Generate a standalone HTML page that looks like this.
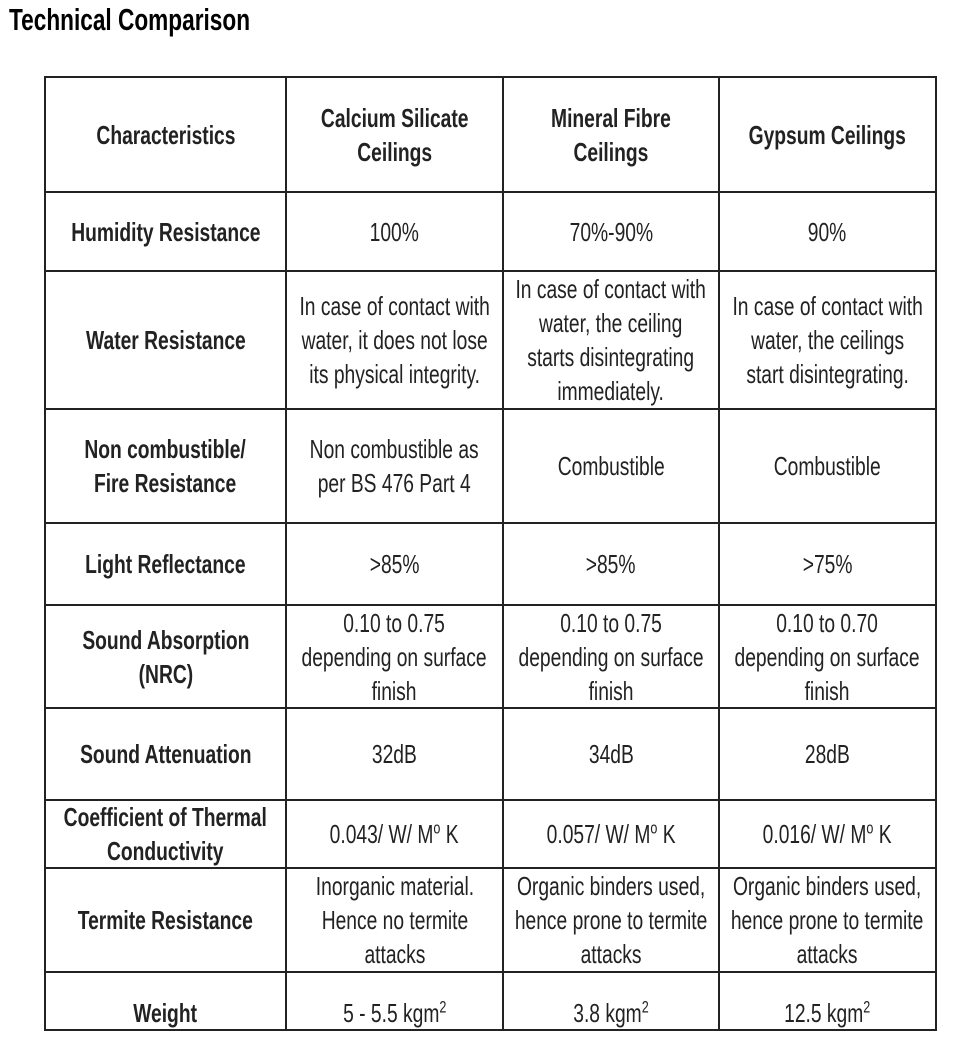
<!DOCTYPE html>
<html><head><meta charset="utf-8"><style>
body{margin:0;width:975px;height:1055px;background:#fff;position:relative;overflow:hidden;font-family:"Liberation Sans",Arial,sans-serif;color:#222}
.t{position:absolute;left:9px;top:2px;font-weight:bold;font-size:31px;color:#000;transform:scaleX(0.73);transform-origin:left top;white-space:nowrap}
.c{position:absolute;display:flex;align-items:center;justify-content:center;text-align:center;font-size:26px;line-height:34px;white-space:nowrap}
.c span{display:inline-block;transform:scaleX(0.74)}
.c sup{font-size:17px;line-height:0}
.b{font-weight:bold}
.h{position:absolute;background:#222}
</style></head><body>
<div class="t">Technical Comparison</div>
<div class="h" style="left:44px;top:76px;width:893px;height:2px"></div>
<div class="h" style="left:44px;top:191px;width:893px;height:2px"></div>
<div class="h" style="left:44px;top:270px;width:893px;height:2px"></div>
<div class="h" style="left:44px;top:408px;width:893px;height:2px"></div>
<div class="h" style="left:44px;top:522px;width:893px;height:2px"></div>
<div class="h" style="left:44px;top:604px;width:893px;height:2px"></div>
<div class="h" style="left:44px;top:707px;width:893px;height:2px"></div>
<div class="h" style="left:44px;top:799px;width:893px;height:2px"></div>
<div class="h" style="left:44px;top:867px;width:893px;height:2px"></div>
<div class="h" style="left:44px;top:971px;width:893px;height:2px"></div>
<div class="h" style="left:44px;top:1029px;width:893px;height:2px"></div>
<div class="h" style="left:44px;top:76px;width:2px;height:955px"></div>
<div class="h" style="left:285px;top:76px;width:2px;height:955px"></div>
<div class="h" style="left:502px;top:76px;width:2px;height:955px"></div>
<div class="h" style="left:718px;top:76px;width:2px;height:955px"></div>
<div class="h" style="left:935px;top:76px;width:2px;height:955px"></div>

<div class="c b" style="left:45px;top:78px;width:241px;height:114px"><span>Characteristics</span></div>
<div class="c b" style="left:286px;top:78px;width:217px;height:114px"><span>Calcium Silicate<br>Ceilings</span></div>
<div class="c b" style="left:503px;top:78px;width:216px;height:114px"><span>Mineral Fibre<br>Ceilings</span></div>
<div class="c b" style="left:719px;top:78px;width:217px;height:114px"><span>Gypsum Ceilings</span></div>

<div class="c b" style="left:45px;top:192px;width:241px;height:79px"><span>Humidity Resistance</span></div>
<div class="c" style="left:286px;top:192px;width:217px;height:79px"><span>100%</span></div>
<div class="c" style="left:503px;top:192px;width:216px;height:79px"><span>70%-90%</span></div>
<div class="c" style="left:719px;top:192px;width:217px;height:79px"><span>90%</span></div>

<div class="c b" style="left:45px;top:271px;width:241px;height:138px"><span>Water Resistance</span></div>
<div class="c" style="left:286px;top:271px;width:217px;height:138px"><span>In case of contact with<br>water, it does not lose<br>its physical integrity.</span></div>
<div class="c" style="left:503px;top:271px;width:216px;height:138px"><span>In case of contact with<br>water, the ceiling<br>starts disintegrating<br>immediately.</span></div>
<div class="c" style="left:719px;top:271px;width:217px;height:138px"><span>In case of contact with<br>water, the ceilings<br>start disintegrating.</span></div>

<div class="c b" style="left:45px;top:409px;width:241px;height:114px"><span>Non combustible/<br>Fire Resistance</span></div>
<div class="c" style="left:286px;top:409px;width:217px;height:114px"><span>Non combustible as<br>per BS 476 Part 4</span></div>
<div class="c" style="left:503px;top:409px;width:216px;height:114px"><span>Combustible</span></div>
<div class="c" style="left:719px;top:409px;width:217px;height:114px"><span>Combustible</span></div>

<div class="c b" style="left:45px;top:523px;width:241px;height:82px"><span>Light Reflectance</span></div>
<div class="c" style="left:286px;top:523px;width:217px;height:82px"><span>&gt;85%</span></div>
<div class="c" style="left:503px;top:523px;width:216px;height:82px"><span>&gt;85%</span></div>
<div class="c" style="left:719px;top:523px;width:217px;height:82px"><span>&gt;75%</span></div>

<div class="c b" style="left:45px;top:605px;width:241px;height:103px"><span>Sound Absorption<br>(NRC)</span></div>
<div class="c" style="left:286px;top:605px;width:217px;height:103px"><span>0.10 to 0.75<br>depending on surface<br>finish</span></div>
<div class="c" style="left:503px;top:605px;width:216px;height:103px"><span>0.10 to 0.75<br>depending on surface<br>finish</span></div>
<div class="c" style="left:719px;top:605px;width:217px;height:103px"><span>0.10 to 0.70<br>depending on surface<br>finish</span></div>

<div class="c b" style="left:45px;top:708px;width:241px;height:92px"><span>Sound Attenuation</span></div>
<div class="c" style="left:286px;top:708px;width:217px;height:92px"><span>32dB</span></div>
<div class="c" style="left:503px;top:708px;width:216px;height:92px"><span>34dB</span></div>
<div class="c" style="left:719px;top:708px;width:217px;height:92px"><span>28dB</span></div>

<div class="c b" style="left:45px;top:800px;width:241px;height:68px"><span>Coefficient of Thermal<br>Conductivity</span></div>
<div class="c" style="left:286px;top:800px;width:217px;height:68px"><span>0.043/ W/ M<sup>o</sup> K</span></div>
<div class="c" style="left:503px;top:800px;width:216px;height:68px"><span>0.057/ W/ M<sup>o</sup> K</span></div>
<div class="c" style="left:719px;top:800px;width:217px;height:68px"><span>0.016/ W/ M<sup>o</sup> K</span></div>

<div class="c b" style="left:45px;top:868px;width:241px;height:104px"><span>Termite Resistance</span></div>
<div class="c" style="left:286px;top:868px;width:217px;height:104px"><span>Inorganic material.<br>Hence no termite<br>attacks</span></div>
<div class="c" style="left:503px;top:868px;width:216px;height:104px"><span>Organic binders used,<br>hence prone to termite<br>attacks</span></div>
<div class="c" style="left:719px;top:868px;width:217px;height:104px"><span>Organic binders used,<br>hence prone to termite<br>attacks</span></div>

<div class="c b" style="left:45px;top:996px;width:241px;height:34px"><span>Weight</span></div>
<div class="c" style="left:286px;top:996px;width:217px;height:34px"><span>5 - 5.5 kgm<sup>2</sup></span></div>
<div class="c" style="left:503px;top:996px;width:216px;height:34px"><span>3.8 kgm<sup>2</sup></span></div>
<div class="c" style="left:719px;top:996px;width:217px;height:34px"><span>12.5 kgm<sup>2</sup></span></div>
</body></html>
